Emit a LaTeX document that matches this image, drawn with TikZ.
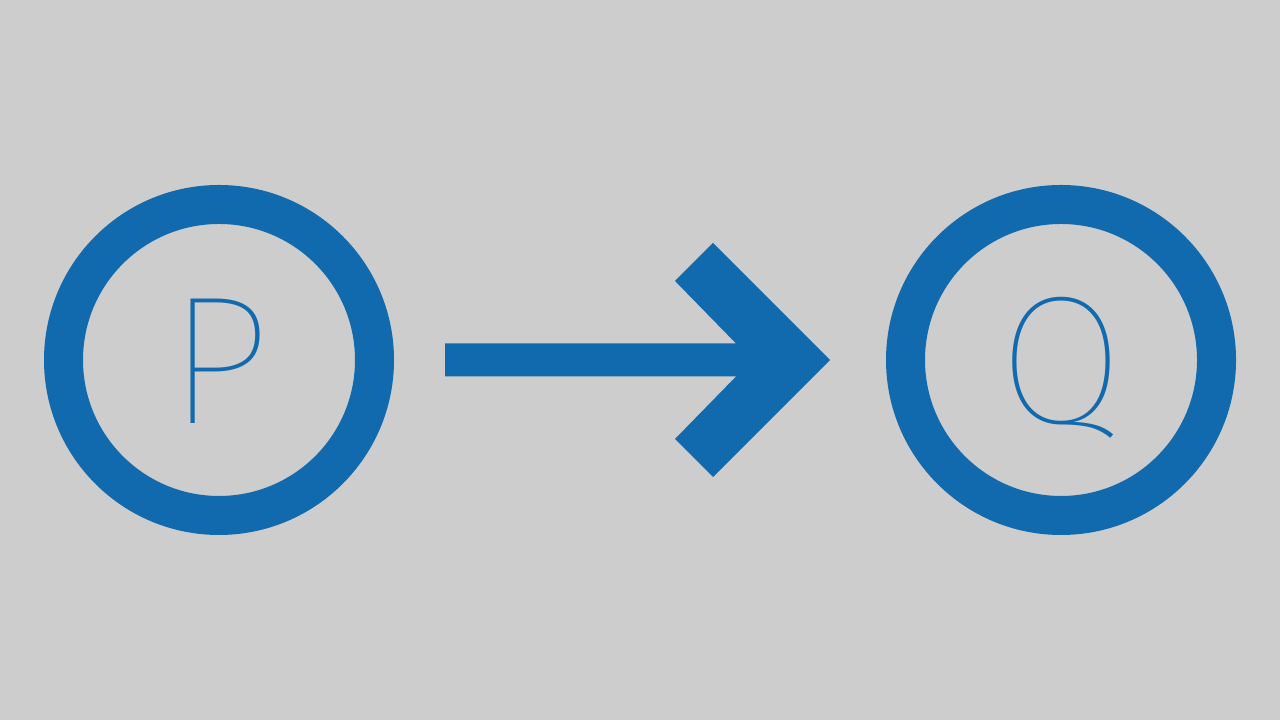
\documentclass[tikz,border=0pt]{standalone}
\usepackage{fontspec}
\usepackage{xcolor}
\usetikzlibrary{calc}
% thinnest sans that is at hand
\IfFontExistsTF{Fira Sans Thin}{\newfontfamily\letterfont{Fira Sans Thin}}{%
\IfFontExistsTF{Lato Hairline}{\newfontfamily\letterfont{Lato Hairline}}{%
\IfFontExistsTF{Lato Thin}{\newfontfamily\letterfont{Lato Thin}}{%
\IfFontExistsTF{Fira Sans ExtraLight}{\newfontfamily\letterfont{Fira Sans ExtraLight}}{%
\IfFontExistsTF{Fira Sans Light}{\newfontfamily\letterfont{Fira Sans Light}}{%
\IfFontExistsTF{Lato Light}{\newfontfamily\letterfont{Lato Light}}{%
\IfFontExistsTF{Open Sans Light}{\newfontfamily\letterfont{Open Sans Light}}{%
\IfFontExistsTF{DejaVu Sans ExtraLight}{\newfontfamily\letterfont{DejaVu Sans ExtraLight}}{%
\newfontfamily\letterfont{Fira Sans}}}}}}}}}
\definecolor{ringblue}{RGB}{17,106,173}
\definecolor{bggray}{RGB}{205,205,205}

\begin{document}
\begin{tikzpicture}[ring/.style={circle, draw=ringblue, line width=0.39cm, minimum size=3.11cm, inner sep=0pt, text=ringblue, font=\letterfont\fontsize{52}{52}\selectfont, text height=1.27cm, text depth=0pt}]
          % Background
          \fill[bggray] (0,0) rectangle (12.8,7.2);

          % Nodes
          \node[ring] (P) at (2.19,3.6) {P};
          \node[ring] (Q) at (10.61,3.6) {Q};

          % Arrow
          \coordinate (tail) at ([xshift=2.26cm]P.center);
          \coordinate (tip) at ([xshift=-2.31cm]Q.center);
          \fill[ringblue] ($(tail)+(0,0.165)$) -- ($(tip)+(-0.94,0.165)$) -- ($(tip)+(-1.55,0.79)$)
            -- ($(tip)+(-1.17,1.17)$) -- (tip) -- ($(tip)+(-1.17,-1.17)$) -- ($(tip)+(-1.55,-0.79)$)
            -- ($(tip)+(-0.94,-0.165)$) -- ($(tail)+(0,-0.165)$) -- cycle;
      \end{tikzpicture}
\end{document}
